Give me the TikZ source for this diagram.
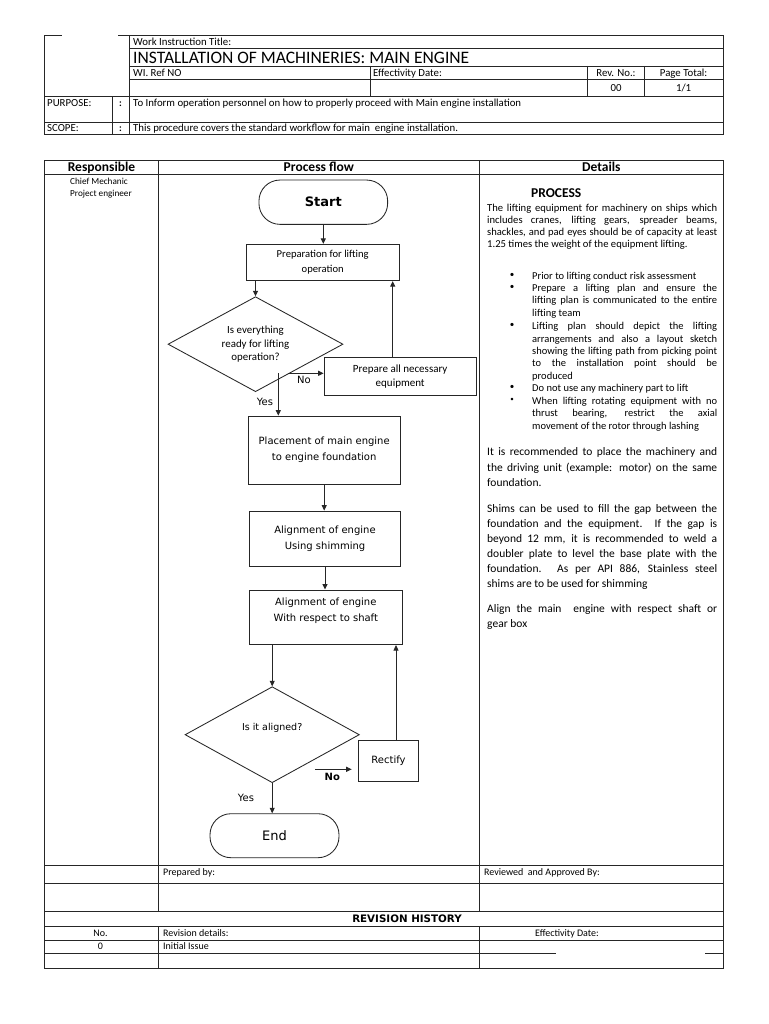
\documentclass[tikz,border=0pt]{standalone}
\usepackage{fontspec}
\setmainfont{Carlito}
\newfontfamily\dejavu{DejaVu Sans}
\usetikzlibrary{arrows.meta,shapes.geometric,calc}
\newcommand{\loosepar}{\tolerance=10000\hyphenpenalty=10000\exhyphenpenalty=10000\relax}
\hyphenpenalty=10000
\exhyphenpenalty=10000
\tolerance=10000
\begin{document}
\begin{tikzpicture}[x=1pt,y=-1pt,
  ln/.style={line width=0.85pt, draw=black!85},
  arr/.style={ln, -{Triangle[length=5.5pt,width=5pt]}},
  tl/.style={anchor=base west, inner sep=0pt, font=\fontsize{10.8}{12}\selectfont},
  tc/.style={anchor=base, inner sep=0pt, font=\fontsize{10.8}{12}\selectfont},
  bl/.style={anchor=base west, inner sep=0pt, font=\fontsize{10}{12}\selectfont},
  bc/.style={anchor=base, inner sep=0pt, font=\fontsize{10}{12}\selectfont},
  hb/.style={anchor=base, inner sep=0pt, font=\bfseries\fontsize{13.5}{15}\selectfont},
  fbox/.style={draw, ln, rectangle, inner sep=0pt, align=center, font=\dejavu\fontsize{10}{16}\selectfont},
  sbox/.style={draw, ln, rectangle, inner sep=0pt, align=center},
  term/.style={draw, ln, rectangle, rounded corners=21pt, inner sep=0pt, font=\dejavu\fontsize{13}{15}\selectfont},
  dia/.style={draw, ln, diamond, inner sep=0pt, align=center},
  ftxt/.style={inner sep=0pt, align=center, font=\dejavu\fontsize{10}{15.5}\selectfont},
  para/.style={anchor=north west, inner sep=0pt, text width=230pt, align=justify},
  bul/.style={anchor=north west, inner sep=0pt, text width=185pt, align=justify, font=\fontsize{10.5}{12.3}\selectfont},
  dot/.style={anchor=center, inner sep=0pt, font=\fontsize{9}{11}\selectfont}
]
\useasboundingbox (0,0) rectangle (768,1024);
\fill[white] (0,0) rectangle (768,1024);

% ---------------- header table ----------------
\draw[ln] (44.7,35.3) -- (62,35.3);
\draw[ln] (118,35.3) -- (723.3,35.3);
\draw[ln] (129.3,48.7) -- (723.3,48.7);
\draw[ln] (129.3,66) -- (723.3,66);
\draw[ln] (129.3,79.5) -- (723.3,79.5);
\draw[ln] (44.7,96.3) -- (723.3,96.3);
\draw[ln] (44.7,122.3) -- (723.3,122.3);
\draw[ln] (44.7,134.7) -- (723.3,134.7);
\draw[ln] (44.7,35.3) -- (44.7,134.7);
\draw[ln] (129.3,35.3) -- (129.3,134.7);
\draw[ln] (112,96.3) -- (112,134.7);
\draw[ln] (723.3,35.3) -- (723.3,134.7);
\draw[ln] (370,66) -- (370,96.3);
\draw[ln] (587.7,66) -- (587.7,96.3);
\draw[ln] (644,66) -- (644,96.3);

\node[tl] (wit) at (133,45.5) {Work Instruction Title:};
\node[tl, font=\fontsize{17.5}{19}\selectfont] (title) at (133,63.1) {INSTALLATION OF MACHINERIES: MAIN ENGINE};
\node[tl] (wiref) at (133,76.3) {WI. Ref NO};
\node[tl] (effd) at (373,76.3) {Effectivity Date:};
\node[tc] (revno) at (616,76.3) {Rev. No.:};
\node[tc] (ptot) at (683.6,76.3) {Page Total:};
\node[tc] (rev00) at (616,91.5) {00};
\node[tc] (p11) at (683.6,91.5) {1/1};
\node[tl] (purp) at (47,107) {PURPOSE:};
\node[tc, font=\bfseries\fontsize{10}{11}\selectfont] (pc) at (120.6,107) {:};
\node[tl] (purpt) at (133,107) {To Inform operation personnel on how to properly proceed with Main engine installation};
\node[tl] (scope) at (47,132) {SCOPE:};
\node[tc, font=\bfseries\fontsize{10}{11}\selectfont] (sc) at (120.6,132) {:};
\node[tl] (scopet) at (133,132) {This procedure covers the standard workflow for main\ \ engine installation.};

% ---------------- main table ----------------
\draw[ln] (44.7,160.7) rectangle (723.3,968.3);
\foreach \yy in {174.3,865,883.3,911,926.7,940} \draw[ln] (44.7,\yy) -- (723.3,\yy);
\draw[ln] (44.7,953.3) -- (556,953.3);
\draw[ln] (705,953.3) -- (723.3,953.3);
\draw[ln] (158.3,160.7) -- (158.3,911);
\draw[ln] (479.4,160.7) -- (479.4,911);
\draw[ln] (158.3,926.7) -- (158.3,968.3);
\draw[ln] (479.4,926.7) -- (479.4,968.3);

\node[hb] (hresp) at (101.5,171.9) {Responsible};
\node[hb] (hproc) at (318.8,171.9) {Process flow};
\node[hb] (hdet) at (601.3,171.9) {Details};
\node[anchor=base, inner sep=0pt, font=\fontsize{9.2}{11}\selectfont] (chief) at (99,184.6) {Chief Mechanic};
\node[anchor=base, inner sep=0pt, font=\fontsize{9.2}{11}\selectfont] (proj) at (101,196.4) {Project engineer};

% ---------------- details ----------------
\node[anchor=west, inner sep=0pt, font=\bfseries\fontsize{13.5}{15}\selectfont] (process) at (531,193) {PROCESS};
\node[para, font=\fontsize{10.6}{12.3}\selectfont] (p1) at (487,203.5)
 {\loosepar The lifting equipment for machinery on ships which\linebreak includes cranes, lifting gears, spreader beams,\linebreak shackles, and pad eyes should be of capacity at least\linebreak 1.25 times the weight of the equipment lifting.};

\node[dot] (b1) at (512,275) {\textbullet};
\node[bul] (i1) at (532,272) {\loosepar Prior to lifting conduct risk assessment};
\node[dot] (b2) at (512,287) {\textbullet};
\node[bul] (i2) at (532,284) {\loosepar Prepare a lifting plan and ensure the\linebreak lifting plan is communicated to the entire\linebreak lifting team};
\node[dot] (b3) at (512,325) {\textbullet};
\node[bul] (i3) at (532,322.5) {\loosepar Lifting plan should depict the lifting\linebreak arrangements and also a layout sketch\linebreak showing the lifting path from picking point\linebreak to the installation point should be\linebreak produced};
\node[dot] (b4) at (512,387) {\textbullet};
\node[bul] (i4) at (532,384) {\loosepar Do not use any machinery part to lift};
\node[dot, font=\fontsize{7}{9}\selectfont] (b5) at (512,400) {\textbullet};
\node[bul] (i5) at (532,397) {\loosepar When lifting rotating equipment with no\linebreak thrust bearing, restrict the axial\linebreak movement of the rotor through \mbox{lashing}};

\node[para, font=\fontsize{11.5}{15.4}\selectfont] (p2) at (487,447.5)
 {\loosepar It is recommended to place the machinery and\linebreak the driving unit (example: motor) on the same\linebreak foundation.};
\node[para, font=\fontsize{11.5}{15}\selectfont] (p3) at (487,504.5)
 {\loosepar Shims can be used to fill the gap between the\linebreak foundation and the equipment. If the gap is\linebreak beyond 12 mm, it is recommended to weld a\linebreak doubler plate to level the base plate with the\linebreak foundation. As per API 886, Stainless steel\linebreak shims are to be used for shimming};
\node[para, font=\fontsize{11.5}{15}\selectfont] (p4) at (487,604.5)
 {\loosepar Align the main\ \ engine with respect shaft or\linebreak gear box};

% ---------------- flowchart ----------------
\node[term, minimum width=128.7pt, minimum height=44.3pt, font=\dejavu\bfseries\fontsize{13}{15}\selectfont] (start) at (323.3,202.2) {Start};
\node[sbox, minimum width=152.7pt, minimum height=36.4pt, font=\fontsize{10.6}{15}\selectfont] (prep) at (322.7,262.5) {Preparation for lifting\\operation};
\node[dia, minimum width=175pt, minimum height=95pt, aspect=1.84, font=\fontsize{10.9}{13.5}\selectfont] (dia1) at (255.5,344.2) {Is everything\\ready for lifting\\operation?};
\node[sbox, minimum width=152.3pt, minimum height=37.7pt, font=\fontsize{11}{14}\selectfont] (prepare) at (400.2,376.2) {Prepare all necessary\\equipment};
\node[fbox, minimum width=151.7pt, minimum height=68.3pt] (place) at (324.2,450.2) {Placement of main engine\\to engine foundation};
\node[fbox, minimum width=151.4pt, minimum height=55pt] (align1) at (325,538.5) {Alignment of engine\\Using shimming};
\node[fbox, minimum width=153pt, minimum height=54.7pt] (align2) at (325.8,617.3) {};
\node[ftxt] (align2t) at (325.8,610.5) {Alignment of engine\\With respect to shaft};
\node[dia, minimum width=174.3pt, minimum height=96pt, aspect=1.82] (dia2) at (272.2,734.7) {};
\node[ftxt, font=\dejavu\fontsize{9.5}{12}\selectfont] (dia2t) at (272.2,728.3) {Is it aligned?};
\node[fbox, minimum width=59.6pt, minimum height=40.6pt] (rect) at (388.5,761) {Rectify};
\node[term, minimum width=129pt, minimum height=44pt] (end) at (274.5,835.7) {End};

% connectors
\draw[arr] (start.south) -- (start.south |- prep.north);
\draw[arr] (prep.south -| dia1.north) -- (dia1.north);
\coordinate (nostart) at (287.7,373.3);
\draw[arr] (nostart) -- (nostart -| prepare.west);
\draw[arr] ([xshift=-7.5pt]prepare.north) -- ([xshift=-7.5pt]prepare.north |- prep.south);
\coordinate (yesstart) at (278.3,373.3);
\draw[arr] (yesstart) -- (yesstart |- place.north);
\draw[arr] (place.south) -- (place.south |- align1.north);
\draw[arr] (align1.south) -- (align1.south |- align2.north);
\draw[arr] (dia2.north |- align2.south) -- (dia2.north);
\draw[arr] ([xshift=7.5pt]rect.north) -- ([xshift=7.5pt]rect.north |- align2.south);
\coordinate (no2a) at (315,769.3);
\coordinate (no2b) at (351.7,769.3);
\draw[arr] (no2a) -- (no2b);
\draw[arr] (dia2.south) -- (dia2.south |- end.north);

\node[ftxt] (no1) at (304,379.5) {No};
\node[ftxt] (yes1) at (265,401.7) {Yes};
\node[ftxt, font=\dejavu\bfseries\fontsize{10}{12}\selectfont] (no2) at (332.3,776.7) {No};
\node[ftxt] (yes2) at (246,797.7) {Yes};

% ---------------- bottom ----------------
\node[bl] (prepby) at (163,875.2) {Prepared by:};
\node[bl] (revby) at (484,875.2) {Reviewed\ \ and Approved By:};
\node[anchor=center, inner sep=0pt, font=\dejavu\bfseries\fontsize{10.3}{12}\selectfont] (revhist) at (407,918.8) {REVISION HISTORY};
\node[bc] (no) at (100.5,936.5) {No.};
\node[bl] (revdet) at (163,936.5) {Revision details:};
\node[bc] (effd2) at (567,936.5) {Effectivity Date:};
\node[bc] (zero) at (100.5,949.8) {0};
\node[bl] (init) at (163,949.8) {Initial Issue};
\end{tikzpicture}
\end{document}
